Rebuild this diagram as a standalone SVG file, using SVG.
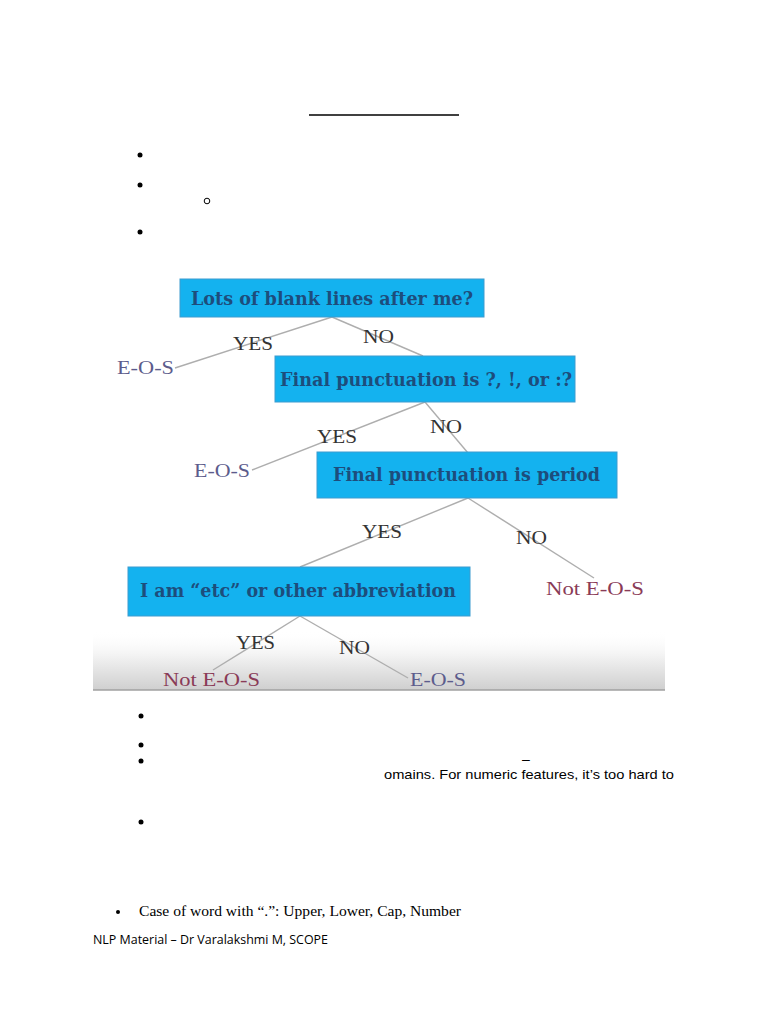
<svg xmlns="http://www.w3.org/2000/svg" width="768" height="1024" viewBox="0 0 768 1024">
<defs>
<linearGradient id="fade" x1="0" y1="0" x2="0" y2="1">
<stop offset="0" stop-color="#ffffff" stop-opacity="0"/>
<stop offset="0.5" stop-color="#eeeeee"/>
<stop offset="1" stop-color="#cfcfcf"/>
</linearGradient>
<style>
.box{fill:#14b2ef;stroke:#3d9ccf;stroke-width:1}
.bt{font-family:"DejaVu Serif","Liberation Serif",serif;font-weight:bold;font-size:19px;fill:#1d4d7c}
.lbl{font-family:"Liberation Serif","DejaVu Serif",serif;font-size:19px;fill:#333333}
.eos{font-family:"Liberation Serif","DejaVu Serif",serif;font-size:19px;fill:#5c5c8c}
.neos{font-family:"Liberation Serif","DejaVu Serif",serif;font-size:19px;fill:#8a3b57}
.edge{stroke:#aeaeae;stroke-width:1.4;fill:none}
.dot{fill:#000}
</style>
</defs>
<rect x="0" y="0" width="768" height="1024" fill="#ffffff"/>
<line x1="309" y1="115" x2="459" y2="115" stroke="#000" stroke-width="1.5"/>
<g id="bullets">
<circle class="dot" cx="140" cy="155" r="2.5"/>
<circle class="dot" cx="140" cy="185" r="2.5"/>
<circle cx="207" cy="201" r="2.8" fill="none" stroke="#000" stroke-width="1"/>
<circle class="dot" cx="140" cy="232" r="2.5"/>
<circle class="dot" cx="141" cy="716" r="2.5"/>
<circle class="dot" cx="141" cy="745" r="2.5"/>
<circle class="dot" cx="141" cy="761" r="2.5"/>
<circle class="dot" cx="141" cy="822" r="2.5"/>
<circle class="dot" cx="118" cy="912" r="2"/>
</g>
<rect x="93" y="630" width="572" height="60" fill="url(#fade)"/>
<line x1="93" y1="690" x2="665" y2="690" stroke="#a0a0a0" stroke-width="1.5"/>
<g id="connectors">
<line class="edge" x1="332" y1="317" x2="175" y2="368"/>
<line class="edge" x1="332" y1="317" x2="423" y2="356"/>
<line class="edge" x1="425" y1="402" x2="252" y2="470"/>
<line class="edge" x1="425" y1="402" x2="468" y2="453"/>
<line class="edge" x1="468" y1="498" x2="300" y2="567"/>
<line class="edge" x1="468" y1="498" x2="594" y2="578"/>
<line class="edge" x1="300" y1="616" x2="213" y2="670"/>
<line class="edge" x1="300" y1="616" x2="408" y2="678"/>
<text class="lbl" x="233" y="350" textLength="40" lengthAdjust="spacingAndGlyphs">YES</text>
<text class="lbl" x="363" y="343" textLength="31" lengthAdjust="spacingAndGlyphs">NO</text>
<text class="lbl" x="317" y="443" textLength="40" lengthAdjust="spacingAndGlyphs">YES</text>
<text class="lbl" x="430" y="433" textLength="32" lengthAdjust="spacingAndGlyphs">NO</text>
<text class="lbl" x="362" y="538" textLength="40" lengthAdjust="spacingAndGlyphs">YES</text>
<text class="lbl" x="516" y="544" textLength="31" lengthAdjust="spacingAndGlyphs">NO</text>
<text class="lbl" x="236" y="649" textLength="39" lengthAdjust="spacingAndGlyphs">YES</text>
<text class="lbl" x="339" y="654" textLength="31" lengthAdjust="spacingAndGlyphs">NO</text>
</g>
<g id="q1">
<rect class="box" x="180" y="279" width="304" height="38"/>
<text class="bt" x="191" y="305" textLength="282" lengthAdjust="spacingAndGlyphs">Lots of blank lines after me?</text>
</g>
<g id="q2">
<rect class="box" x="275" y="356" width="300" height="46"/>
<text class="bt" x="280" y="386" textLength="292" lengthAdjust="spacingAndGlyphs">Final punctuation is ?, !, or :?</text>
</g>
<g id="q3">
<rect class="box" x="317" y="452" width="300" height="46"/>
<text class="bt" x="333" y="481" textLength="267" lengthAdjust="spacingAndGlyphs">Final punctuation is period</text>
</g>
<g id="q4">
<rect class="box" x="128" y="567" width="342" height="49"/>
<text class="bt" x="140" y="597" textLength="316" lengthAdjust="spacingAndGlyphs">I am “etc” or other abbreviation</text>
</g>
<g id="leaf1"><text class="eos" x="117" y="374" textLength="57" lengthAdjust="spacingAndGlyphs">E-O-S</text></g>
<g id="leaf2"><text class="eos" x="194" y="477" textLength="56" lengthAdjust="spacingAndGlyphs">E-O-S</text></g>
<g id="leaf3"><text class="neos" x="546" y="595" textLength="98" lengthAdjust="spacingAndGlyphs">Not E-O-S</text></g>
<g id="leaf4"><text class="neos" x="163" y="686" textLength="97" lengthAdjust="spacingAndGlyphs">Not E-O-S</text></g>
<g id="leaf5"><text class="eos" x="410" y="686" textLength="56" lengthAdjust="spacingAndGlyphs">E-O-S</text></g>
<text x="522" y="764" font-family="Liberation Sans, sans-serif" font-size="14" fill="#000">–</text>
<text x="384" y="779" font-family="Liberation Sans, sans-serif" font-size="13.5" fill="#000" textLength="290" lengthAdjust="spacingAndGlyphs">omains. For numeric features, it’s too hard to</text>
<text x="139" y="916" font-family="Liberation Serif, serif" font-size="14.5" fill="#000" textLength="322" lengthAdjust="spacingAndGlyphs">Case of word with “.”: Upper, Lower, Cap, Number</text>
<text x="93" y="944" font-family="Open Sans, Liberation Sans, sans-serif" font-size="12.5" fill="#000" textLength="235" lengthAdjust="spacingAndGlyphs">NLP Material – Dr Varalakshmi M, SCOPE</text>
</svg>
